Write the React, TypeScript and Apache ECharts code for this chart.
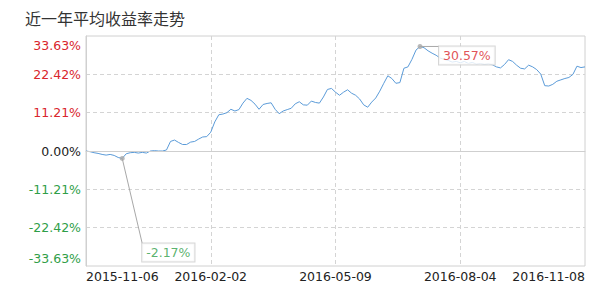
import React, { useEffect, useRef } from 'react';
import * as echarts from 'echarts';

const titleText = '近一年平均收益率走势';
const xTickLabels = ['2015-11-06', '2016-02-02', '2016-05-09', '2016-08-04', '2016-11-08'];
const yStep = 11.21;

// cumulative return (%), roughly every 2 trading days
const seg1 = [0.0, -0.2, -0.5, -0.7, -1.0, -1.2, -1.0, -1.3, -1.9, -2.17, -0.8, -0.5, -0.4, -0.6, -0.4, -0.6, 0.0, 0.1, 0.0, 0.0, 0.3, 2.8, 3.2, 2.5, 1.9, 1.9, 2.6, 2.8, 3.5, 4.1, 4.2];
const seg2 = [5.5, 8.5, 10.6, 10.8, 11.2, 12.2, 11.7, 12.1, 14.0, 15.4, 14.8, 13.7, 12.2, 13.6, 13.9, 14.1, 12.2, 10.9, 11.7, 12.1, 12.5, 13.8, 14.4, 13.5, 13.4, 14.6, 14.2, 14.0, 15.8, 18.0, 18.3];
const seg3 = [17.2, 16.3, 17.2, 17.9, 16.9, 16.3, 15.2, 13.5, 12.8, 14.3, 15.5, 17.5, 19.8, 22.0, 21.2, 19.8, 20.0, 24.2, 24.6, 26.8, 29.5, 30.57, 30.2, 29.3, 28.6, 28.0, 27.2, 26.8, 26.5, 26.0, 26.2];
const seg4 = [25.8, 26.2, 25.6, 25.9, 25.4, 25.6, 25.3, 25.5, 25.2, 24.6, 24.3, 25.3, 26.7, 26.2, 25.1, 24.2, 24.0, 25.1, 24.6, 23.8, 22.5, 19.1, 19.0, 19.5, 20.4, 20.8, 21.2, 21.5, 22.4, 24.8, 24.4, 24.6];
const returns = [...seg1, ...seg2, ...seg3, ...seg4];

const RED = '#d9262c';
const GREEN = '#2f9e48';
const FONT = 'DejaVu Sans';
const GUIDE = '#a8a8a8';
const MIN_LABEL_OFFSET = [20, 85];
const MAX_LABEL_OFFSET = [19, 0];

export default function App() {
  const ref = useRef<HTMLDivElement>(null);
  useEffect(() => {
    const chart = echarts.init(ref.current!, null, { renderer: 'svg' });
    const n = returns.length - 1;
    const xStep = n / (xTickLabels.length - 1);
    const data = returns.map((v, i) => [i, v]);
    let minI = 0;
    let maxI = 0;
    returns.forEach((v, i) => {
      if (v < returns[minI]) minI = i;
      if (v > returns[maxI]) maxI = i;
    });
    const yMin = -3 * yStep;
    const yMax = 3 * yStep;
    const rich = (color: string, padding?: number[]) => ({ color, fontSize: 12.5, fontFamily: FONT, padding });
    chart.setOption({
      animation: false,
      textStyle: { fontFamily: FONT },
      title: {
        text: titleText,
        left: 25,
        top: 10,
        padding: 0,
        textStyle: { fontSize: 16, fontWeight: 'normal', color: '#333', fontFamily: 'Noto Sans CJK SC' },
      },
      grid: { left: 86, right: 25, top: 36, bottom: 29, show: true, borderColor: '#d0d0d0', borderWidth: 1 },
      xAxis: {
        type: 'value',
        min: 0,
        max: n,
        interval: xStep,
        axisLine: { show: true, lineStyle: { color: '#d0d0d0' } },
        axisTick: { show: false },
        splitLine: { show: true, showMinLine: false, showMaxLine: false, lineStyle: { color: '#d4d4d4', type: [4, 3] } },
        axisLabel: {
          formatter: (v: number) => xTickLabels[Math.round(v / xStep)] ?? '',
          alignMinLabel: 'left',
          alignMaxLabel: 'right',
          showMinLabel: true,
          showMaxLabel: true,
          color: '#222',
          fontSize: 12.5,
          fontFamily: FONT,
          margin: 4,
        },
      },
      yAxis: {
        type: 'value',
        min: yMin,
        max: yMax,
        interval: yStep,
        axisLine: { show: true, lineStyle: { color: '#d0d0d0' } },
        axisTick: { show: false },
        splitLine: { show: true, showMinLine: false, showMaxLine: false, lineStyle: { color: '#d4d4d4', type: [4, 3] } },
        axisLabel: {
          margin: 5,
          fontSize: 12.5,
          fontFamily: FONT,
          formatter: (v: number) => {
            if (Math.abs(v) < 1e-6) return '{zero|0.00%}';
            const s = v.toFixed(2) + '%';
            if (v > yMax - 1e-6) return `{top|${s}}`;
            if (v < yMin + 1e-6) return `{bot|${s}}`;
            return v > 0 ? `{pos|${s}}` : `{neg|${s}}`;
          },
          rich: {
            top: rich(RED, [19, 0, 0, 0]),
            bot: rich(GREEN, [0, 0, 16, 0]),
            pos: rich(RED),
            neg: rich(GREEN),
            zero: rich('#222'),
          },
        },
      },
      series: [
        {
          type: 'line',
          data,
          showSymbol: false,
          lineStyle: { color: '#5b9bd8', width: 1 },
          itemStyle: { color: '#5b9bd8' },
          markLine: {
            silent: true,
            symbol: 'none',
            label: { show: false },
            lineStyle: { color: '#cfcfcf', type: 'solid', width: 1 },
            data: [{ yAxis: 0 }],
          },
          z: 3,
        },
        {
          type: 'scatter',
          z: 5,
          symbolSize: 5,
          itemStyle: { color: GUIDE },
          data: [
            { value: [minI, returns[minI]], label: { color: GREEN } },
            { value: [maxI, returns[maxI]], label: { color: RED } },
          ],
          label: {
            show: true,
            formatter: (p: any) => p.value[1].toFixed(2) + '%',
            fontSize: 12.5,
            fontFamily: FONT,
            backgroundColor: '#fff',
            borderColor: '#cccccc',
            borderWidth: 1,
            padding: [3, 4, 2, 4],
          },
          labelLayout: (p: any) => {
            const cx = p.rect.x + p.rect.width / 2;
            const cy = p.rect.y + p.rect.height / 2;
            const off = p.dataIndex === 0 ? MIN_LABEL_OFFSET : MAX_LABEL_OFFSET;
            return { x: cx + off[0], y: cy + off[1], align: 'left', verticalAlign: 'top' };
          },
        },
      ],
    });
    const guides = [
      { idx: minI, off: MIN_LABEL_OFFSET },
      { idx: maxI, off: MAX_LABEL_OFFSET },
    ].map(({ idx, off }) => {
      const p = chart.convertToPixel({ gridIndex: 0 }, [idx, returns[idx]]) as number[];
      return {
        type: 'line',
        silent: true,
        z: 4,
        shape: { x1: p[0], y1: p[1], x2: p[0] + off[0], y2: p[1] + off[1] },
        style: { stroke: GUIDE, lineWidth: 1 },
      };
    });
    chart.setOption({ graphic: guides });
    return () => chart.dispose();
  }, []);
  return <div ref={ref} style={{ position: 'absolute', left: 0, top: 0, width: 610, height: 295 }} />;
}
